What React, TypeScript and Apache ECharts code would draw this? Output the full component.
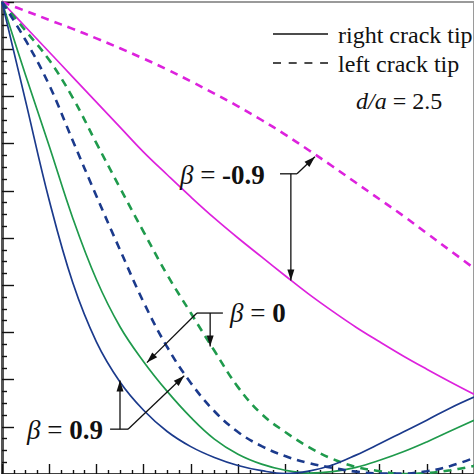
import React, { useEffect, useRef } from "react";
import * as echarts from "echarts";

// x positions (normalised distance), 0 … 10
const xs = [0, 0.5, 1, 1.5, 2, 2.5, 3, 3.5, 4, 4.5, 5, 5.5, 6, 6.5, 7, 7.5, 8, 8.5, 9, 9.5, 10];

// beta = -0.9
const magentaRight = [10.0, 9.47, 8.94, 8.41, 7.88, 7.35, 6.82, 6.34, 5.87, 5.42, 5.0, 4.6, 4.2, 3.81, 3.45, 3.11, 2.8, 2.5, 2.22, 1.95, 1.69];
const magentaLeft = [10.0, 9.81, 9.62, 9.43, 9.23, 9.02, 8.8, 8.57, 8.32, 8.06, 7.79, 7.5, 7.19, 6.86, 6.52, 6.17, 5.82, 5.47, 5.1, 4.73, 4.36];
// beta = 0
const greenRight = [10.0, 8.45, 6.95, 5.42, 4.12, 3.12, 2.38, 1.75, 1.2, 0.74, 0.42, 0.21, 0.08, 0.02, 0.05, 0.14, 0.29, 0.47, 0.68, 0.91, 1.14];
const greenLeft = [10.0, 9.39, 8.77, 7.97, 7.01, 6.06, 5.13, 4.22, 3.41, 2.61, 1.84, 1.27, 0.89, 0.57, 0.32, 0.15, 0.06, 0.0, 0.02, 0.08, 0.17];
// beta = 0.9
const blueRight = [10.0, 7.9, 5.8, 4.05, 2.8, 1.95, 1.35, 0.9, 0.58, 0.35, 0.18, 0.07, 0.01, 0.06, 0.19, 0.4, 0.64, 0.89, 1.14, 1.4, 1.63];
const blueLeft = [10.0, 9.19, 8.24, 7.06, 5.89, 4.75, 3.64, 2.69, 1.93, 1.33, 0.89, 0.59, 0.38, 0.23, 0.13, 0.05, 0.01, 0.01, 0.06, 0.17, 0.34];

const legendLabels = ["right crack tip", "left crack tip"];
const ratioLabel = "d/a";
const ratioValue = "2.5";
const betaValues = ["-0.9", "0", "0.9"];

// annotation geometry in data units: label anchor, bracket bar, arrows [from, to]
const labelAnchors = [[3.77, 6.33], [4.83, 3.41], [0.53, 0.93]];
const bracketBars = [
  [[5.89, 6.36], [6.25, 6.36]],
  [[4.13, 3.41], [4.68, 3.41]],
  [[2.29, 0.95], [2.67, 0.95]],
];
const arrowLines = [
  [[6.25, 6.36], [6.63, 6.72]],
  [[6.12, 6.36], [6.12, 4.1]],
  [[4.41, 3.41], [4.41, 2.7]],
  [[4.13, 3.41], [3.07, 2.36]],
  [[2.5, 0.95], [2.5, 1.98]],
  [[2.67, 0.95], [3.86, 2.08]],
];

const SERIF = '"Liberation Serif", "Times New Roman", serif';
const MAGENTA = "#dd22dd";
const GREEN = "#1f9a4c";
const BLUE = "#1b3a8c";
const INK = "#111111";

function pairs(ys: number[]) {
  return xs.map((x, i) => [x, ys[i]]);
}

function arrowHead(tip: number[], from: number[], len = 10, wid = 7) {
  const dx = tip[0] - from[0];
  const dy = tip[1] - from[1];
  const d = Math.hypot(dx, dy) || 1;
  const ux = dx / d;
  const uy = dy / d;
  const bx = tip[0] - ux * len;
  const by = tip[1] - uy * len;
  const px = -uy * (wid / 2);
  const py = ux * (wid / 2);
  return [
    [tip[0], tip[1]],
    [bx + px, by + py],
    [bx - px, by - py],
  ];
}

export default function App() {
  const ref = useRef<HTMLDivElement>(null);

  useEffect(() => {
    if (!ref.current) return;
    const chart = echarts.init(ref.current, undefined, { renderer: "svg" });

    const line = (name: string, ys: number[], color: string, dashed: boolean) => ({
      name,
      type: "line",
      data: pairs(ys),
      smooth: 0.4,
      showSymbol: false,
      symbol: "none",
      lineStyle: dashed
        ? { color, width: 2.6, type: [8, 6] }
        : { color, width: 1.7, type: "solid" },
      z: 3,
    });

    chart.setOption({
      animation: false,
      backgroundColor: "#ffffff",
      grid: {
        left: 2,
        right: 0,
        top: 2,
        bottom: 0,
        show: true,
        borderColor: "#9a9a9a",
        borderWidth: 2,
        backgroundColor: "transparent",
      },
      xAxis: {
        type: "value",
        min: 0,
        max: 10,
        interval: 1,
        axisLabel: { show: false },
        splitLine: { show: false },
        axisLine: { show: true, lineStyle: { color: "#222", width: 1.5 } },
        axisTick: { show: true, inside: true, length: 10, lineStyle: { color: "#111", width: 1.4 } },
        minorTick: { show: true, splitNumber: 4, length: 4, lineStyle: { color: "#111", width: 1.4 } },
      },
      yAxis: {
        type: "value",
        min: 0,
        max: 10,
        interval: 1,
        axisLabel: { show: false },
        splitLine: { show: false },
        axisLine: { show: true, lineStyle: { color: "#555", width: 3 } },
        axisTick: { show: true, inside: true, length: 12, lineStyle: { color: "#111", width: 1.4 } },
        minorTick: { show: true, splitNumber: 4, length: 5, lineStyle: { color: "#111", width: 1.4 } },
      },
      series: [
        line("β = -0.9 left", magentaLeft, MAGENTA, true),
        line("β = -0.9 right", magentaRight, MAGENTA, false),
        line("β = 0 left", greenLeft, GREEN, true),
        line("β = 0 right", greenRight, GREEN, false),
        line("β = 0.9 left", blueLeft, BLUE, true),
        line("β = 0.9 right", blueRight, BLUE, false),
      ],
    });

    const P = (p: number[]) => chart.convertToPixel({ xAxisIndex: 0, yAxisIndex: 0 }, p) as number[];

    const graphics: any[] = [];

    // legend
    graphics.push({
      type: "line",
      shape: { x1: 273, y1: 34, x2: 328, y2: 34 },
      style: { stroke: INK, lineWidth: 1.6 },
      z: 10,
    });
    graphics.push({
      type: "line",
      shape: { x1: 273, y1: 63, x2: 328, y2: 63 },
      style: { stroke: INK, lineWidth: 1.6, lineDash: [8, 7.7] },
      z: 10,
    });
    graphics.push({
      type: "text",
      x: 338,
      y: 35,
      style: { text: legendLabels[0], fontFamily: SERIF, fontSize: 24, fill: INK, verticalAlign: "middle", align: "left" },
      z: 10,
    });
    graphics.push({
      type: "text",
      x: 338,
      y: 64,
      style: { text: legendLabels[1], fontFamily: SERIF, fontSize: 24, fill: INK, verticalAlign: "middle", align: "left" },
      z: 10,
    });
    graphics.push({
      type: "text",
      x: 356,
      y: 101,
      style: {
        text: "{i|" + ratioLabel + "} = " + ratioValue,
        fontFamily: SERIF,
        fontSize: 24,
        fill: INK,
        verticalAlign: "middle",
        align: "left",
        rich: { i: { fontFamily: SERIF, fontSize: 24, fontStyle: "italic", fill: INK } },
      },
      z: 10,
    });

    // beta labels
    labelAnchors.forEach((a, i) => {
      const p = P(a);
      graphics.push({
        type: "text",
        x: p[0],
        y: p[1],
        style: {
          text: "{i|β} = {n|" + betaValues[i] + "}",
          fontFamily: SERIF,
          fontSize: 27,
          fill: INK,
          verticalAlign: "middle",
          align: "left",
          rich: {
            i: { fontFamily: SERIF, fontSize: 27, fontStyle: "italic", fill: INK },
            n: { fontFamily: SERIF, fontSize: 27, fontWeight: "bold", fill: INK },
          },
        },
        z: 10,
      });
    });

    bracketBars.forEach((b) => {
      const a = P(b[0]);
      const c = P(b[1]);
      graphics.push({
        type: "line",
        shape: { x1: a[0], y1: a[1], x2: c[0], y2: c[1] },
        style: { stroke: INK, lineWidth: 1.3 },
        z: 10,
      });
    });

    arrowLines.forEach((l) => {
      const a = P(l[0]);
      const c = P(l[1]);
      graphics.push({
        type: "line",
        shape: { x1: a[0], y1: a[1], x2: c[0], y2: c[1] },
        style: { stroke: INK, lineWidth: 1.3 },
        z: 10,
      });
      graphics.push({
        type: "polygon",
        shape: { points: arrowHead(c, a, 11, 7) },
        style: { fill: INK, stroke: "none" },
        z: 11,
      });
    });

    chart.setOption({ graphic: graphics });

    return () => {
      chart.dispose();
    };
  }, []);

  return (
    <div
      ref={ref}
      style={{ position: "absolute", left: 0, top: 0, width: 474, height: 474, background: "#fff" }}
    />
  );
}
